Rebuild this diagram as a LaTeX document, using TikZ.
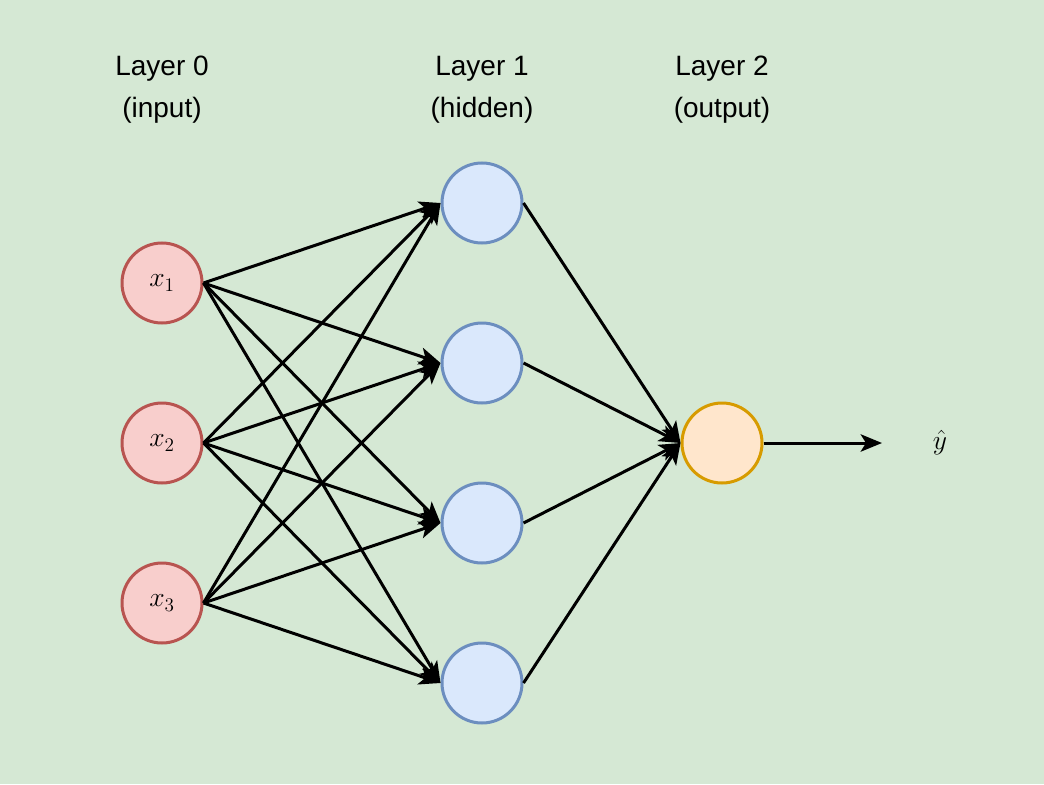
\documentclass[tikz,border=0pt]{standalone}
\usepackage{fontspec}
\setmainfont{Liberation Sans}
\usetikzlibrary{arrows.meta}
\definecolor{bg}{HTML}{D5E8D4}
\definecolor{redf}{HTML}{F8CECC}\definecolor{redd}{HTML}{B85450}
\definecolor{bluef}{HTML}{DAE8FC}\definecolor{blued}{HTML}{6C8EBF}
\definecolor{oraf}{HTML}{FFE6CC}\definecolor{orad}{HTML}{D79B00}
\begin{document}
\begin{tikzpicture}[x=0.75pt,y=-0.75pt,
  neuron/.style={circle,minimum size=60pt,inner sep=0pt,line width=2.25pt,font=\fontsize{21}{25}\selectfont},
  inp/.style={neuron,fill=redf,draw=redd},
  hid/.style={neuron,fill=bluef,draw=blued},
  outp/.style={neuron,fill=oraf,draw=orad},
  conn/.style={line width=2.25pt,-{Stealth[length=16pt,width=13pt,inset=4pt]}},
  lab/.style={align=center,font=\fontsize{21}{31.5}\selectfont}]
  \fill[bg] (0,0) rectangle (1044,784);
  \node[lab] (l0) at (162,90) {Layer 0\\(input)};
  \node[lab] (l1) at (482,90) {Layer 1\\(hidden)};
  \node[lab] (l2) at (722,90) {Layer 2\\(output)};
  \foreach \i/\y in {1/283,2/443,3/603}
    \node[inp] (x\i) at (162,\y) {$x_\i$};
  \foreach \j/\y in {1/203,2/363,3/523,4/683}
    \node[hid] (h\j) at (482,\y) {};
  \node[outp] (o) at (722,443) {};
  \coordinate (yend) at (882,443);
  \node[font=\fontsize{21}{25}\selectfont] (yhat) at (940,443) {$\hat{y}$};
  \foreach \i in {1,2,3}
    \foreach \j in {1,2,3,4}
      \draw[conn] (x\i.east) -- (h\j.west);
  \foreach \j in {1,2,3,4}
    \draw[conn] (h\j.east) -- (o.west);
  \draw[conn] (o.east) -- (yend);
\end{tikzpicture}
\end{document}
